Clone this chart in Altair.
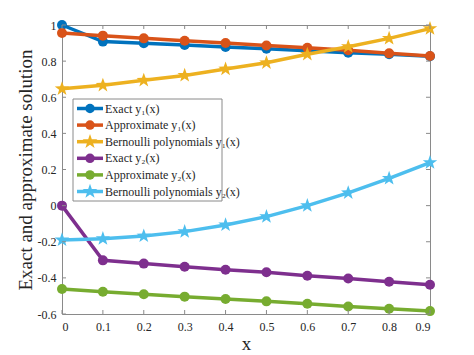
import math
import altair as alt
import pandas as pd

x_vals = [0.0, 0.1, 0.2, 0.3, 0.4, 0.5, 0.6, 0.7, 0.8, 0.9]
exact_y1 = [1.000, 0.908, 0.899, 0.889, 0.878, 0.869, 0.858, 0.847, 0.838, 0.827]
approx_y1 = [0.956, 0.941, 0.926, 0.913, 0.900, 0.887, 0.874, 0.860, 0.843, 0.828]
bern_y1 = [0.647, 0.666, 0.694, 0.721, 0.756, 0.791, 0.838, 0.880, 0.926, 0.980]
exact_y2 = [0.000, -0.303, -0.321, -0.338, -0.355, -0.369, -0.388, -0.403, -0.421, -0.438]
approx_y2 = [-0.462, -0.477, -0.491, -0.504, -0.517, -0.530, -0.543, -0.558, -0.571, -0.584]
bern_y2 = [-0.190, -0.183, -0.168, -0.144, -0.107, -0.061, 0.000, 0.071, 0.151, 0.238]

names = ["Exact y\u2081(x)", "Approximate y\u2081(x)", "Bernoulli polynomials y\u2081(x)",
         "Exact y\u2082(x)", "Approximate y\u2082(x)", "Bernoulli polynomials y\u2082(x)"]
series = [exact_y1, approx_y1, bern_y1, exact_y2, approx_y2, bern_y2]
colors = ["#0072BD", "#D95319", "#EDB120", "#7E2F8E", "#77AC30", "#4DBEEE"]
markers = ["circle", "circle", "star", "circle", "circle", "star"]

x_ticks = [0.0, 0.1, 0.2, 0.3, 0.4, 0.5, 0.6, 0.7, 0.8, 0.9]
y_ticks = [-0.6, -0.4, -0.2, 0.0, 0.2, 0.4, 0.6, 0.8, 1.0]

# five-pointed star symbol path (unit coordinates)
pts = []
for k in range(10):
    r = 1.0 if k % 2 == 0 else 0.40
    a = math.radians(-90 + 36 * k)
    pts.append(f"{r * math.cos(a):.3f},{r * math.sin(a):.3f}")
STAR = "M" + " L".join(pts) + " Z"

W, H = 368, 289
FONT = "Liberation Serif"
GRAY = "#8a8a8a"
TXT = "#262626"
LABEL = "'' + datum.value"

xs = alt.Scale(domain=[0, 0.9], nice=False, zero=False)
ys = alt.Scale(domain=[-0.6, 1.0], nice=False, zero=False)

xaxis = alt.Axis(values=x_ticks, title="x", grid=False, ticks=False, domain=False, orient="bottom",
                 labelFont=FONT, labelFontSize=12, labelColor=TXT, labelPadding=7,
                 titleFont=FONT, titleFontSize=19, titleFontWeight="normal", titleColor=TXT,
                 titlePadding=2, labelExpr=LABEL)
yaxis = alt.Axis(values=y_ticks, title="Exact and approximate solution", grid=False, ticks=False,
                 domain=False, orient="left", labelFont=FONT, labelFontSize=12, labelColor=TXT,
                 labelPadding=6, titleFont=FONT, titleFontSize=19, titleFontWeight="normal",
                 titleColor=TXT, titlePadding=2, labelExpr=LABEL)


def X():
    return alt.X("x:Q", scale=xs, axis=xaxis)


def Y():
    return alt.Y("y:Q", scale=ys, axis=yaxis)


def marker_mark(kind, color, legend=False):
    if kind == "star":
        return dict(shape=STAR, filled=True, color=color, size=240 if legend else 230, opacity=1)
    return dict(shape="circle", filled=True, color=color, size=90 if legend else 100, opacity=1)


layers = []
for name, vals, color, kind in zip(names, series, colors, markers):
    df = pd.DataFrame({"x": x_vals, "y": vals})
    base = alt.Chart(df).encode(x=X(), y=Y())
    layers.append(base.mark_line(color=color, strokeWidth=3.5))
    layers.append(base.mark_point(**marker_mark(kind, color)))

# inward ticks (MATLAB style)
xt = pd.DataFrame({"x": x_ticks})
yt = pd.DataFrame({"y": y_ticks})
layers.append(alt.Chart(xt).mark_rule(color=GRAY, strokeWidth=1).encode(
    x=X(), y=alt.value(H), y2=alt.value(H - 4)))
layers.append(alt.Chart(xt).mark_rule(color=GRAY, strokeWidth=1).encode(
    x=X(), y=alt.value(0), y2=alt.value(4)))
layers.append(alt.Chart(yt).mark_rule(color=GRAY, strokeWidth=1).encode(
    y=Y(), x=alt.value(0), x2=alt.value(4)))
layers.append(alt.Chart(yt).mark_rule(color=GRAY, strokeWidth=1).encode(
    y=Y(), x=alt.value(W), x2=alt.value(W - 4)))

# manual legend
one = pd.DataFrame({"a": [0]})
LX0, LX1, LY0, LY1 = 11, 160, 74, 176
layers.append(alt.Chart(one).mark_rect(fill="white", stroke=GRAY, strokeWidth=1).encode(
    x=alt.value(LX0), x2=alt.value(LX1), y=alt.value(LY0), y2=alt.value(LY1)))
for i, (name, color, kind) in enumerate(zip(names, colors, markers)):
    cy = 83.5 + 16.6 * i
    layers.append(alt.Chart(one).mark_rule(color=color, strokeWidth=3.5).encode(
        x=alt.value(15), x2=alt.value(41), y=alt.value(cy)))
    layers.append(alt.Chart(one).mark_point(**marker_mark(kind, color, True)).encode(
        x=alt.value(28), y=alt.value(cy)))
    layers.append(alt.Chart(one).mark_text(text=name, font=FONT, fontSize=12, color=TXT,
                                           align="left", baseline="middle").encode(
        x=alt.value(43), y=alt.value(cy)))

chart = alt.layer(*layers).properties(
    width=W, height=H,
    autosize=alt.AutoSizeParams(type="none"),
    padding={"left": 62, "top": 25, "right": 44, "bottom": 41},
    background="white",
).configure_view(stroke=GRAY, strokeWidth=1)

chart.save("out.html", embed_options={"renderer": "svg", "actions": False})
